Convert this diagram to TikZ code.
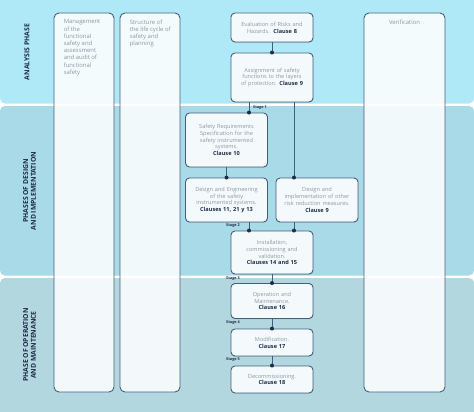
\documentclass[tikz,border=0pt]{standalone}
\usepackage{fontspec}
\setmainfont{Open Sans}
\usetikzlibrary{shadows}
\definecolor{bandA}{HTML}{AFE8F6}
\definecolor{bandB}{HTML}{A9DAE7}
\definecolor{bandC}{HTML}{B3D7DF}
\definecolor{edgec}{HTML}{40607F}
\definecolor{fillc}{HTML}{F4FAFC}
\definecolor{greytext}{HTML}{8C99A3}
\definecolor{navy}{HTML}{1D2C47}
\newcommand\clause[1]{\textcolor{navy}{\textbf{#1}}}
\tikzset{
  band/.style={rounded corners=5pt},
  lifebox/.style={draw=edgec,fill=fillc,rounded corners=4pt,line width=0.9pt,
    minimum width=82pt,text width=76pt,align=center,inner sep=0pt,
    text=greytext,font=\fontsize{5.6}{6.8}\selectfont,
    drop shadow={shadow xshift=0.5pt,shadow yshift=-0.8pt,opacity=0.2}},
  column/.style={draw=edgec,fill=white,fill opacity=0.85,rounded corners=5pt,
    line width=0.9pt,minimum width=60pt,minimum height=379pt,inner sep=0pt},
  coltext/.style={text=greytext,align=left,inner sep=0pt,
    font=\fontsize{5.9}{7.2}\selectfont},
  phase/.style={rotate=90,align=center,text=navy,inner sep=0pt,
    font=\fontsize{6.8}{7.8}\selectfont\bfseries},
  stage/.style={text=navy,inner sep=0pt,font=\fontsize{3.8}{4}\selectfont\bfseries},
  link/.style={draw=edgec,line width=0.8pt},
}
\begin{document}
\begin{tikzpicture}[x=1pt,y=-1pt]
  \useasboundingbox (0,0) rectangle (474,412);
  % phase bands
  \fill[bandA,band] (0,-6) rectangle (474,103.5);
  \fill[bandB,band] (0,106) rectangle (474,275.5);
  \fill[bandC,band] (0,278) rectangle (474,418);
  \node[phase] (ph1) at (27,52) {ANALYSIS PHASE};
  \node[phase] (ph2) at (29.5,191) {PHASES OF DESIGN\\AND IMPLEMENTATION};
  \node[phase] (ph3) at (29.5,345) {PHASE OF OPERATION\\AND MAINTENANCE};
  % columns
  \node[column] (mgmt) at (84,202.5) {};
  \node[column] (struct) at (150,202.5) {};
  \node[column,minimum width=81pt] (verif) at (404.5,202.5) {};
  \node[coltext,anchor=north west] (mgmttxt) at ([xshift=10pt,yshift=-7pt]mgmt.north west)
    {Management\\of the\\functional\\safety and\\assessment\\and audit of\\functional\\safety};
  \node[coltext,anchor=north west] (structtxt) at ([xshift=10pt,yshift=-7pt]struct.north west)
    {Structure of\\the life cycle of\\safety and\\planning};
  \node[coltext,anchor=north] (veriftxt) at ([yshift=-7pt]verif.north) {Verification};
  % life cycle boxes
  \node[lifebox,minimum height=29pt] (eval) at (272,27.5)
    {Evaluation of Risks and\\Hazards.\ \ \clause{Clause 8}};
  \node[lifebox,minimum height=49pt] (assign) at (272,77.5)
    {Assignment of safety\\functions to the layers\\of protection. \clause{Clause 9}};
  \node[lifebox,minimum height=54pt] (srs) at (226.5,140)
    {Safety Requirements\\Specification for the\\safety instrumented\\systems.\\\clause{Clause 10}};
  \node[lifebox,minimum height=44pt] (sisdesign) at (226.5,200)
    {Design and Engineering\\of the safety\\instrumented systems.\\\clause{Clauses 11, 21 y 13}};
  \node[lifebox,minimum height=44pt] (otherdesign) at (317,200)
    {Design and\\implementation of other\\risk reduction measures.\\\clause{Clause 9}};
  \node[lifebox,minimum height=43pt] (install) at (272,252.5)
    {Installation,\\commissioning and\\validation.\\\clause{Clauses 14 and 15}};
  \node[lifebox,minimum height=35pt] (operate) at (272,301)
    {Operation and\\Maintenance.\\\clause{Clause 16}};
  \node[lifebox,minimum height=27pt] (modify) at (272,342.5)
    {Modification.\\\clause{Clause 17}};
  \node[lifebox,minimum height=27pt] (decom) at (272,379.5)
    {Decommissioning.\\\clause{Clause 18}};
  % connectors
  \draw[link] (eval.south) -- (assign.north) coordinate (d0);
  \draw[link] ([xshift=22.5pt]srs.north) coordinate (d1) -- (d1 |- assign.south);
  \draw[link] ([xshift=-23pt]otherdesign.north) coordinate (d2) -- (d2 |- assign.south);
  \draw[link] (srs.south) -- (sisdesign.north) coordinate (d3);
  \draw[link] ([xshift=-23pt]install.north) coordinate (d4) -- (d4 |- sisdesign.south);
  \draw[link] ([xshift=22pt]install.north) coordinate (d5) -- (d5 |- otherdesign.south);
  \draw[link] (install.south) -- (operate.north) coordinate (d6);
  \draw[link] (operate.south) -- (modify.north) coordinate (d7);
  \draw[link] (modify.south) -- (decom.north) coordinate (d8);
  \foreach \d in {d0,d1,d2,d3,d4,d5,d6,d7,d8}
    \fill[navy] (\d) circle (2pt);
  % stage labels
  \node[stage,anchor=west] (st1) at (253,107.5) {Stage 1};
  \node[stage,anchor=east] (st2) at (240,226) {Stage 2};
  \node[stage,anchor=east] (st3) at (240,278.5) {Stage 3};
  \node[stage,anchor=east] (st4) at (240,323) {Stage 4};
  \node[stage,anchor=east] (st5) at (240,360) {Stage 5};
\end{tikzpicture}
\end{document}
